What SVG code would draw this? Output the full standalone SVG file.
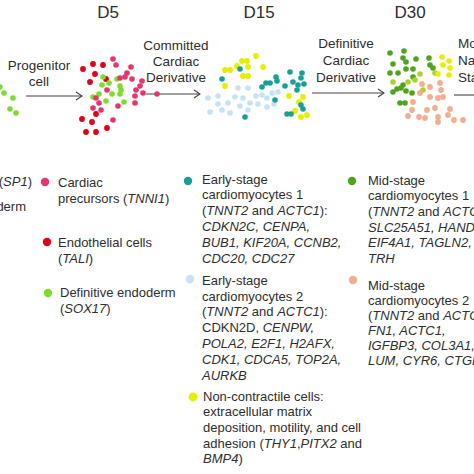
<svg xmlns="http://www.w3.org/2000/svg" width="474" height="474" viewBox="0 0 474 474">
<defs>
<style>
text{font-family:"Liberation Sans",Arial,sans-serif;fill:#2e2e2e}
.ttl{font-size:17px}
.lbl{font-size:13.5px;text-anchor:middle}
.lg{font-size:13px}
.i{font-style:italic}
.rd{fill:#e0001b}.pk{fill:#e5356a}.lm{fill:#7ddc2e}.tl{fill:#17a093}.lb{fill:#c6e2f4}.yw{fill:#e6ef00}.dg{fill:#4ea41c}.lg2{fill:#a6d62a}.sm{fill:#f3ae92}
.arr{stroke:#444;stroke-width:1.1;fill:none}
</style>
<marker id="ah" viewBox="0 0 8 10" refX="7" refY="5" markerWidth="8" markerHeight="10" markerUnits="userSpaceOnUse" orient="auto">
<path d="M1,1 L7,5 L1,9" fill="none" stroke="#444" stroke-width="1.1"/>
</marker>
</defs>
<rect width="474" height="474" fill="#fff"/>

<g id="titles">
<text class="ttl" x="108" y="18" text-anchor="middle">D5</text>
<text class="ttl" x="259" y="18" text-anchor="middle">D15</text>
<text class="ttl" x="410" y="18" text-anchor="middle">D30</text>
</g>

<g id="connectors">
<line class="arr" x1="26" y1="96" x2="82" y2="96" marker-end="url(#ah)"/>
<line class="arr" x1="146" y1="94" x2="200" y2="94" marker-end="url(#ah)"/>
<line class="arr" x1="312" y1="93" x2="384" y2="93" marker-end="url(#ah)"/>
<line class="arr" x1="454" y1="95" x2="474" y2="95"/>
</g>

<g id="label-progenitor">
<text class="lbl" x="39" y="70">Progenitor</text>
<text class="lbl" x="39" y="86">cell</text>
</g>
<g id="label-committed">
<text class="lbl" x="176" y="50">Committed</text>
<text class="lbl" x="176" y="66">Cardiac</text>
<text class="lbl" x="176" y="82">Derivative</text>
</g>
<g id="label-definitive">
<text class="lbl" x="346" y="48">Definitive</text>
<text class="lbl" x="346" y="65">Cardiac</text>
<text class="lbl" x="346" y="82">Derivative</text>
</g>
<g id="label-next">
<text class="lbl" x="458" y="48" style="text-anchor:start">Mo</text>
<text class="lbl" x="458" y="65" style="text-anchor:start">Na</text>
<text class="lbl" x="458" y="82" style="text-anchor:start">Sta</text>
</g>

<g id="cluster-d0">
<circle class="lm" cx="0" cy="87" r="2.8"/>
<circle class="lm" cx="4" cy="93" r="2.8"/>
<circle class="lm" cx="13" cy="98" r="2.8"/>
<circle class="lm" cx="10" cy="109" r="2.8"/>
<circle class="lm" cx="16" cy="113" r="2.8"/>
</g>

<g id="cluster-d5">
<circle class="rd" cx="83" cy="69" r="2.9"/>
<circle class="rd" cx="93" cy="64" r="2.9"/>
<circle class="rd" cx="103" cy="65" r="2.9"/>
<circle class="rd" cx="95" cy="74" r="2.9"/>
<circle class="rd" cx="90" cy="82" r="2.9"/>
<circle class="rd" cx="106" cy="79" r="2.9"/>
<circle class="rd" cx="96" cy="114" r="2.9"/>
<circle class="rd" cx="82" cy="119" r="2.9"/>
<circle class="rd" cx="92" cy="122" r="2.9"/>
<circle class="rd" cx="86" cy="132" r="2.9"/>
<circle class="rd" cx="96" cy="132" r="2.9"/>
<circle class="rd" cx="107" cy="128" r="2.9"/>
<circle class="lm" cx="103" cy="77" r="2.8"/>
<circle class="lm" cx="117" cy="79" r="2.8"/>
<circle class="lm" cx="102" cy="85" r="2.8"/>
<circle class="lm" cx="109" cy="83" r="2.8"/>
<circle class="lm" cx="120" cy="86" r="2.8"/>
<circle class="lm" cx="121" cy="90" r="2.8"/>
<circle class="lm" cx="112" cy="94" r="2.8"/>
<circle class="lm" cx="93" cy="97" r="2.8"/>
<circle class="lm" cx="99" cy="94" r="2.8"/>
<circle class="lm" cx="106" cy="101" r="2.8"/>
<circle class="lm" cx="120" cy="94" r="2.8"/>
<circle class="lm" cx="124" cy="102" r="2.8"/>
<circle class="pk" cx="113" cy="59" r="2.8"/>
<circle class="pk" cx="116" cy="65" r="2.8"/>
<circle class="pk" cx="131" cy="67" r="2.8"/>
<circle class="pk" cx="127" cy="73" r="2.8"/>
<circle class="pk" cx="120" cy="78" r="2.8"/>
<circle class="pk" cx="132" cy="79" r="2.8"/>
<circle class="pk" cx="125" cy="77" r="2.8"/>
<circle class="pk" cx="142" cy="81" r="2.8"/>
<circle class="pk" cx="140" cy="86" r="2.8"/>
<circle class="pk" cx="136" cy="90" r="2.8"/>
<circle class="pk" cx="143" cy="93" r="2.8"/>
<circle class="pk" cx="135" cy="96" r="2.8"/>
<circle class="pk" cx="135" cy="103" r="2.8"/>
<circle class="pk" cx="157" cy="94" r="2.8"/>
<circle class="pk" cx="96" cy="98" r="2.8"/>
<circle class="pk" cx="99" cy="103" r="2.8"/>
<circle class="pk" cx="93" cy="108" r="2.8"/>
<circle class="pk" cx="101" cy="110" r="2.8"/>
<circle class="pk" cx="118" cy="106" r="2.8"/>
<circle class="pk" cx="113" cy="120" r="2.8"/>
<circle class="pk" cx="107" cy="90" r="2.8"/>
</g>

<g id="cluster-d15">
<circle class="lb" cx="208" cy="98" r="2.8"/>
<circle class="lb" cx="218" cy="96" r="2.8"/>
<circle class="lb" cx="210" cy="112" r="2.8"/>
<circle class="lb" cx="222" cy="110" r="2.8"/>
<circle class="lb" cx="228" cy="103" r="2.8"/>
<circle class="lb" cx="230" cy="113" r="2.8"/>
<circle class="lb" cx="235" cy="97" r="2.8"/>
<circle class="lb" cx="243" cy="98" r="2.8"/>
<circle class="lb" cx="238" cy="88" r="2.8"/>
<circle class="lb" cx="248" cy="88" r="2.8"/>
<circle class="lb" cx="250" cy="103" r="2.8"/>
<circle class="lb" cx="258" cy="104" r="2.8"/>
<circle class="lb" cx="262" cy="95" r="2.8"/>
<circle class="lb" cx="267" cy="98" r="2.8"/>
<circle class="lb" cx="272" cy="93" r="2.8"/>
<circle class="lb" cx="278" cy="92" r="2.8"/>
<circle class="lb" cx="267" cy="107" r="2.8"/>
<circle class="lb" cx="248" cy="110" r="2.8"/>
<circle class="lb" cx="256" cy="96" r="2.8"/>
<circle class="lb" cx="218" cy="104" r="2.8"/>
<circle class="lb" cx="240" cy="106" r="2.8"/>
<circle class="lb" cx="274" cy="104" r="2.8"/>
<circle class="yw" cx="225" cy="70" r="2.9"/>
<circle class="yw" cx="230" cy="70" r="2.9"/>
<circle class="yw" cx="237" cy="66" r="2.9"/>
<circle class="yw" cx="242" cy="61" r="2.9"/>
<circle class="yw" cx="247" cy="61" r="2.9"/>
<circle class="yw" cx="248" cy="67" r="2.9"/>
<circle class="yw" cx="243" cy="76" r="2.9"/>
<circle class="yw" cx="248" cy="76" r="2.9"/>
<circle class="yw" cx="256" cy="56" r="2.9"/>
<circle class="yw" cx="263" cy="67" r="2.9"/>
<circle class="yw" cx="225" cy="86" r="2.9"/>
<circle class="yw" cx="289" cy="96" r="2.9"/>
<circle class="yw" cx="303" cy="97" r="2.9"/>
<circle class="yw" cx="299" cy="102" r="2.9"/>
<circle class="yw" cx="295" cy="111" r="2.9"/>
<circle class="yw" cx="301" cy="117" r="2.9"/>
<circle class="yw" cx="307" cy="115" r="2.9"/>
<circle class="tl" cx="240" cy="69" r="2.8"/>
<circle class="tl" cx="222" cy="79" r="2.8"/>
<circle class="tl" cx="262" cy="87" r="2.8"/>
<circle class="tl" cx="266" cy="83" r="2.8"/>
<circle class="tl" cx="270" cy="83" r="2.8"/>
<circle class="tl" cx="276" cy="77" r="2.8"/>
<circle class="tl" cx="277" cy="81" r="2.8"/>
<circle class="tl" cx="285" cy="86" r="2.8"/>
<circle class="tl" cx="290" cy="72" r="2.8"/>
<circle class="tl" cx="293" cy="82" r="2.8"/>
<circle class="tl" cx="298" cy="85" r="2.8"/>
<circle class="tl" cx="301" cy="78" r="2.8"/>
<circle class="tl" cx="302" cy="73" r="2.8"/>
<circle class="tl" cx="304" cy="84" r="2.8"/>
<circle class="tl" cx="297" cy="90" r="2.8"/>
<circle class="tl" cx="275" cy="100" r="2.8"/>
<circle class="tl" cx="301" cy="105" r="2.8"/>
<circle class="tl" cx="303" cy="109" r="2.8"/>
<circle class="tl" cx="287" cy="114" r="2.8"/>
<circle class="tl" cx="291" cy="114" r="2.8"/>
<circle class="tl" cx="245" cy="117" r="2.8"/>
</g>

<g id="cluster-d30">
<circle class="dg" cx="390" cy="53" r="2.8"/>
<circle class="dg" cx="404" cy="51" r="2.8"/>
<circle class="dg" cx="393" cy="64" r="2.8"/>
<circle class="dg" cx="403" cy="58" r="2.8"/>
<circle class="dg" cx="406" cy="62" r="2.8"/>
<circle class="dg" cx="416" cy="59" r="2.8"/>
<circle class="dg" cx="429" cy="58" r="2.8"/>
<circle class="dg" cx="390" cy="73" r="2.8"/>
<circle class="dg" cx="398" cy="73" r="2.8"/>
<circle class="dg" cx="406" cy="69" r="2.8"/>
<circle class="dg" cx="413" cy="69" r="2.8"/>
<circle class="dg" cx="430" cy="65" r="2.8"/>
<circle class="dg" cx="433" cy="68" r="2.8"/>
<circle class="dg" cx="403" cy="85" r="2.8"/>
<circle class="dg" cx="413" cy="77" r="2.8"/>
<circle class="dg" cx="393" cy="92" r="2.8"/>
<circle class="dg" cx="397" cy="89" r="2.8"/>
<circle class="dg" cx="401" cy="88" r="2.8"/>
<circle class="dg" cx="406" cy="91" r="2.8"/>
<circle class="dg" cx="412" cy="93" r="2.8"/>
<circle class="dg" cx="400" cy="103" r="2.8"/>
<circle class="dg" cx="405" cy="103" r="2.8"/>
<circle class="lg2" cx="393" cy="82" r="2.8"/>
<circle class="lg2" cx="415" cy="80" r="2.8"/>
<circle class="lg2" cx="408" cy="82" r="2.8"/>
<circle class="lg2" cx="435" cy="73" r="2.8"/>
<circle class="lg2" cx="423" cy="90" r="2.8"/>
<circle class="lg2" cx="420" cy="74" r="2.8"/>
<circle class="yw" cx="442" cy="57" r="2.8"/>
<circle class="yw" cx="449" cy="61" r="2.8"/>
<circle class="yw" cx="443" cy="65" r="2.8"/>
<circle class="yw" cx="450" cy="68" r="2.8"/>
<circle class="yw" cx="449" cy="75" r="2.8"/>
<circle class="yw" cx="438" cy="74" r="2.8"/>
<circle class="sm" cx="422" cy="84" r="2.9"/>
<circle class="sm" cx="430" cy="87" r="2.9"/>
<circle class="sm" cx="440" cy="83" r="2.9"/>
<circle class="sm" cx="420" cy="93" r="2.9"/>
<circle class="sm" cx="430" cy="97" r="2.9"/>
<circle class="sm" cx="438" cy="98" r="2.9"/>
<circle class="sm" cx="443" cy="97" r="2.9"/>
<circle class="sm" cx="413" cy="102" r="2.9"/>
<circle class="sm" cx="412" cy="110" r="2.9"/>
<circle class="sm" cx="427" cy="110" r="2.9"/>
<circle class="sm" cx="435" cy="108" r="2.9"/>
<circle class="sm" cx="450" cy="109" r="2.9"/>
<circle class="sm" cx="419" cy="117" r="2.9"/>
<circle class="sm" cx="425" cy="118" r="2.9"/>
<circle class="sm" cx="438" cy="117" r="2.9"/>
<circle class="sm" cx="438" cy="122" r="2.9"/>
<circle class="sm" cx="448" cy="115" r="2.9"/>
<circle class="sm" cx="454" cy="120" r="2.9"/>
<circle class="sm" cx="463" cy="120" r="2.9"/>
<circle class="sm" cx="441" cy="90" r="2.9"/>
<circle class="sm" cx="408" cy="116" r="2.9"/>
</g>

<g id="legend-left">
<text class="lg" x="32" y="186" text-anchor="end">(<tspan class="i">SP1</tspan>)</text>
<text class="lg" x="26" y="211" text-anchor="end">derm</text>
</g>

<g id="legend-cardiac-precursors">
<circle class="pk" cx="45" cy="182" r="4.2"/>
<text class="lg" x="58" y="187">Cardiac</text>
<text class="lg" x="58" y="203">precursors (<tspan class="i">TNNI1</tspan>)</text>
</g>
<g id="legend-endothelial">
<circle class="rd" cx="47" cy="242" r="4.2"/>
<text class="lg" x="58" y="247">Endothelial cells</text>
<text class="lg" x="58" y="263">(<tspan class="i">TALI</tspan>)</text>
</g>
<g id="legend-endoderm">
<circle class="lm" cx="48" cy="293" r="4.2"/>
<text class="lg" x="60" y="297">Definitive endoderm</text>
<text class="lg" x="60" y="313">(<tspan class="i">SOX17</tspan>)</text>
</g>

<g id="legend-early1">
<circle class="tl" cx="188" cy="181" r="4.2"/>
<text class="lg" x="202" y="184">Early-stage</text>
<text class="lg" x="202" y="199">cardiomyocytes 1</text>
<text class="lg" x="202" y="215">(<tspan class="i">TNNT2</tspan> and <tspan class="i">ACTC1</tspan>):</text>
<text class="lg i" x="202" y="231">CDKN2C, CENPA,</text>
<text class="lg i" x="202" y="247">BUB1, KIF20A, CCNB2,</text>
<text class="lg i" x="202" y="263">CDC20, CDC27</text>
</g>
<g id="legend-early2">
<circle class="lb" cx="190" cy="279" r="4.2"/>
<text class="lg" x="202" y="285">Early-stage</text>
<text class="lg" x="202" y="301">cardiomyocytes  2</text>
<text class="lg" x="202" y="316">(<tspan class="i">TNNT2</tspan> and <tspan class="i">ACTC1</tspan>):</text>
<text class="lg" x="202" y="332">CDKN2D, <tspan class="i">CENPW,</tspan></text>
<text class="lg i" x="202" y="348">POLA2,  E2F1, H2AFX,</text>
<text class="lg i" x="202" y="364">CDK1, CDCA5, TOP2A,</text>
<text class="lg i" x="202" y="380">AURKB</text>
</g>
<g id="legend-noncontractile">
<circle class="yw" cx="193" cy="397" r="4.4"/>
<text class="lg" x="203" y="401">Non-contractile  cells:</text>
<text class="lg" x="203" y="416">extracellular  matrix</text>
<text class="lg" x="203" y="432">deposition, motility,  and cell</text>
<text class="lg" x="203" y="448">adhesion (<tspan class="i">THY1</tspan>,<tspan class="i">PITX2</tspan> and</text>
<text class="lg" x="203" y="463"><tspan class="i">BMP4</tspan>)</text>
</g>

<g id="legend-mid1">
<circle class="dg" cx="352" cy="181" r="4.2"/>
<text class="lg" x="368" y="185">Mid-stage</text>
<text class="lg" x="368" y="200">cardiomyocytes 1</text>
<text class="lg" x="368" y="216">(<tspan class="i">TNNT2</tspan> and <tspan class="i">ACTC1</tspan>):</text>
<text class="lg i" x="368" y="232">SLC25A51, HAND1,</text>
<text class="lg i" x="368" y="247">EIF4A1, TAGLN2,</text>
<text class="lg i" x="368" y="263">TRH</text>
</g>
<g id="legend-mid2">
<circle class="sm" cx="353" cy="280" r="4.2"/>
<text class="lg" x="368" y="290">Mid-stage</text>
<text class="lg" x="368" y="305">cardiomyocytes 2</text>
<text class="lg" x="368" y="320">(<tspan class="i">TNNT2</tspan> and <tspan class="i">ACTC1</tspan>):</text>
<text class="lg i" x="368" y="335">FN1, ACTC1,</text>
<text class="lg i" x="368" y="350">IGFBP3, COL3A1,</text>
<text class="lg i" x="368" y="365">LUM, CYR6, CTGF</text>
</g>
</svg>
